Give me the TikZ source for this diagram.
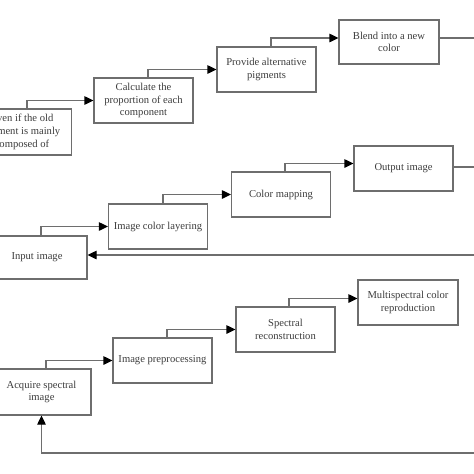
\documentclass[tikz,border=0pt]{standalone}
\usepackage{fontspec}
\setmainfont{Liberation Serif}
\usetikzlibrary{arrows.meta}
\definecolor{linegray}{RGB}{110,110,110}
\definecolor{textgray}{RGB}{60,60,60}
\tikzset{
  stepbox/.style={draw=linegray, line width=1.2pt, rectangle, minimum width=99pt, minimum height=45pt,
    align=center, inner sep=2pt, text=textgray, font=\fontsize{10.6}{12.7}\selectfont},
  conn/.style={draw=linegray, line width=1.2pt},
  arr/.style={conn, -{Triangle[length=9pt,width=8.5pt,color=black]}}
}
\begin{document}
\begin{tikzpicture}[x=1pt,y=-1pt]
\useasboundingbox (0,0) rectangle (474,474);
\clip (0,0) rectangle (474,474);
% top row
\node[stepbox, minimum height=46pt] (A) at (22,132) {Even if the old\\pigment is mainly\\composed of};
\node[stepbox] (B) at (143.5,100.5) {Calculate the\\proportion of each\\component};
\node[stepbox] (C) at (266.5,69.5) {Provide alternative\\pigments};
\node[stepbox, minimum width=100pt, minimum height=44pt] (D) at (389,42) {Blend into a new\\color};
\coordinate (Dout) at (480,38);
% middle row
\node[stepbox, minimum width=100pt, minimum height=43pt] (E) at (37,257.5) {Input image};
\node[stepbox] (F) at (158,226.5) {Image color layering};
\node[stepbox] (G) at (281,194.5) {Color mapping};
\node[stepbox] (H) at (403.5,168.5) {Output image};
\coordinate (Hout) at (480,167);
\coordinate (Rin) at (480,255);
% bottom row
\node[stepbox, minimum height=46pt] (I) at (41.5,392) {Acquire spectral\\image};
\node[stepbox] (J) at (162.5,360.5) {Image preprocessing};
\node[stepbox] (K) at (285.5,329.5) {Spectral\\reconstruction};
\node[stepbox, minimum width=100pt] (L) at (408,302.5) {Multispectral color\\reproduction};
\coordinate (Rb) at (480,453);
% connectors
\draw[arr] ([xshift=5pt]A.north) |- (B.west);
\draw[arr] ([xshift=4.5pt]B.north) |- (C.west);
\draw[arr] ([xshift=4.5pt]C.north) |- ([yshift=4]D.west);
\draw[conn] ([yshift=4]D.east) -- (Dout);
\draw[arr] ([xshift=4pt]E.north) |- (F.west);
\draw[arr] ([xshift=5pt]F.north) |- (G.west);
\draw[arr] ([xshift=4pt]G.north) |- ([yshift=5]H.west);
\draw[conn] ([yshift=1.5]H.east) -- (Hout);
\draw[arr] (Rin) -- ([yshift=2.5]E.east);
\draw[arr] ([xshift=4.5pt]I.north) |- (J.west);
\draw[arr] ([xshift=4.5pt]J.north) |- (K.west);
\draw[arr] ([xshift=3.5pt]K.north) |- ([yshift=4]L.west);
\draw[arr] (Rb) -| (I.south);
\end{tikzpicture}
\end{document}
